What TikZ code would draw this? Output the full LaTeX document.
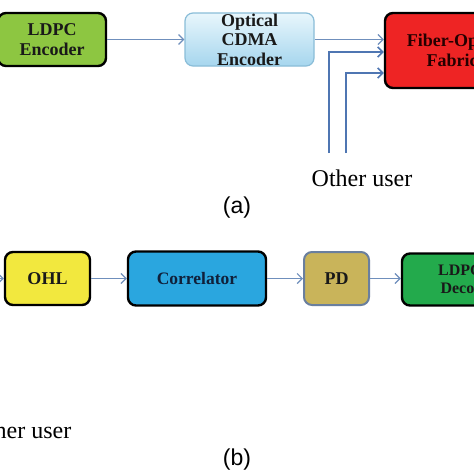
\documentclass[tikz,border=0pt]{standalone}
\usepackage{fontspec}
\setmainfont{Liberation Serif}
\newfontfamily\sansf{Liberation Sans}
\usetikzlibrary{arrows.meta}
\definecolor{encgreen}{HTML}{8DC641}
\definecolor{cdmaborder}{HTML}{8ABDD8}
\definecolor{cdmatop}{HTML}{E8F6FC}
\definecolor{cdmabot}{HTML}{A6D6EE}
\definecolor{fabred}{HTML}{EE2424}
\definecolor{ohlyellow}{HTML}{F2E83E}
\definecolor{corrblue}{HTML}{2AA6DF}
\definecolor{pdkhaki}{HTML}{C9B45A}
\definecolor{pdborder}{HTML}{6A7F9E}
\definecolor{decgreen}{HTML}{23AA4C}
\definecolor{arrowblue}{HTML}{6F8FBC}
\definecolor{userblue}{HTML}{4F76B2}
\definecolor{corrtext}{HTML}{10203A}
\tikzset{
  blockbox/.style={draw=black, line width=2.4pt, rounded corners=8pt, align=center,
    inner sep=0pt, font=\bfseries\fontsize{18}{20}\selectfont, text=black!90},
  conn/.style={draw=arrowblue, line width=1.2pt, -{Straight Barb[length=5pt,width=10pt]}},
  userline/.style={draw=userblue, line width=1.5pt, -{Straight Barb[length=5pt,width=10pt]}},
  userlabel/.style={font=\fontsize{24}{26}\selectfont, text=black},
  caption/.style={font=\sansf\fontsize{23}{25}\selectfont, text=black}
}
\begin{document}
\begin{tikzpicture}[x=1pt,y=-1pt]
\useasboundingbox (0,0) rectangle (474,474);
\clip (0,0) rectangle (474,474);
\fill[white] (0,0) rectangle (474,474);
% (a)
\node[blockbox, fill=encgreen, minimum width=108pt, minimum height=53pt] (enc) at (52,39.5) {LDPC\\Encoder};
\node[blockbox, draw=cdmaborder, line width=1.2pt, top color=cdmatop, bottom color=cdmabot,
  minimum width=129pt, minimum height=53pt, font=\bfseries\fontsize{18}{19.5}\selectfont] (cdma) at (249.5,39.5) {Optical\\CDMA\\Encoder};
\node[blockbox, fill=fabred, minimum width=134pt, minimum height=75pt, text=black!85!red] (fab) at (452,50.5) {Fiber-Optic\\Fabric};
\draw[conn] (enc.east) -- (cdma.west);
\draw[conn] (cdma.east) -- (cdma.east -| fab.west);
\coordinate (u1) at (329,153);
\coordinate (u2) at (346,153);
\coordinate (y1) at (0,52);
\coordinate (y2) at (0,73);
\draw[userline] (u1) |- (fab.west |- y1);
\draw[userline] (u2) |- (fab.west |- y2);
\node[userlabel] (oua) at (362,178) {Other user};
\node[caption] (capa) at (237,208) {(a)};
% (b)
\node[blockbox, fill=ohlyellow, minimum width=85pt, minimum height=53pt] (ohl) at (47.5,278.5) {OHL};
\node[blockbox, fill=corrblue, minimum width=138pt, minimum height=54pt, text=corrtext, font=\bfseries\fontsize{17.5}{20}\selectfont] (corr) at (197,278.5) {Correlator};
\node[blockbox, fill=pdkhaki, draw=pdborder, line width=2pt, minimum width=65pt, minimum height=53pt] (pd) at (336.5,278.5) {PD};
\node[blockbox, fill=decgreen, minimum width=134pt, minimum height=52pt, font=\bfseries\fontsize{16}{18}\selectfont] (dec) at (469,279.5) {LDPC\hspace*{18pt}\\Decoder};
\coordinate (inb) at (-20,278.5);
\draw[conn] (inb) -- (ohl.west);
\draw[conn] (ohl.east) -- (corr.west);
\draw[conn] (corr.east) -- (pd.west);
\draw[conn] (pd.east) -- (pd.east -| dec.west);
\node[userlabel] (oub) at (21,430) {Other user};
\node[caption] (capb) at (237,460) {(b)};
\end{tikzpicture}
\end{document}
